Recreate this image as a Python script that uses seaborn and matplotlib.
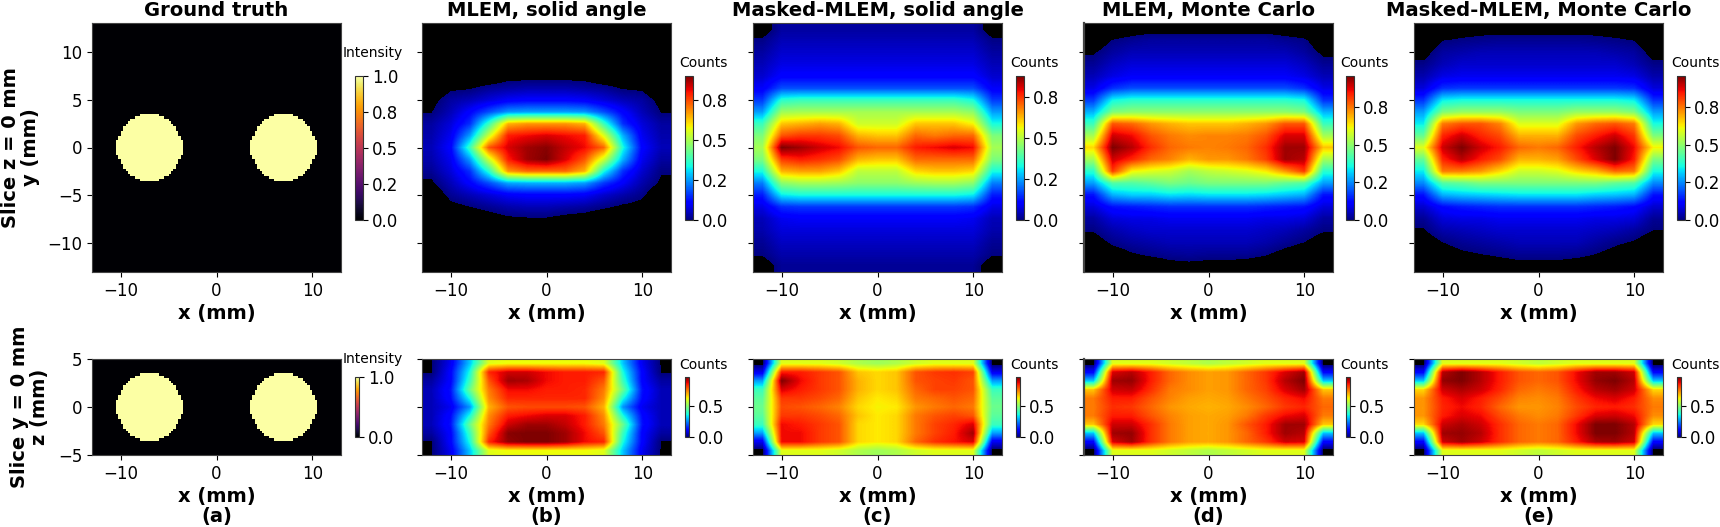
import numpy as np
import matplotlib
matplotlib.use("Agg")
import matplotlib.pyplot as plt
from matplotlib.cm import ScalarMappable
from matplotlib.colors import Normalize
import seaborn as sns

W, H = 1720, 527
titles = ["Ground truth", "MLEM, solid angle", "Masked-MLEM, solid angle", "MLEM, Monte Carlo", "Masked-MLEM, Monte Carlo"]
letters = ["(a)", "(b)", "(c)", "(d)", "(e)"]

# half widths (0.25 mm cells) of the source discs, row by row from the centre
disc_half_widths = [14, 14, 14, 13, 13, 12, 12, 11, 11, 10, 9, 8, 6, 4]
disc_centres_mm = [-7, 7]

# Relative activity by column, x = -12 ... 12 mm; rows run from y = +12.4 to -12.4 mm.
# Negative entries are the empty (black) region outside the reconstructed volume.
xy_b = [
 [-.1,-.1,-.1,-.1,-.1,-.06,-.02,-.002,.03,.04,.05,.04,.02,-.01,-.05,-.1,-.1,-.1,-.1,-.1,-.1],
 [-.1,-.1,-.1,-.1,-.05,-.01,.03,.05,.08,.1,.12,.1,.08,.05,.02,-.02,-.06,-.1,-.1,-.1,-.1],
 [-.1,-.1,-.1,-.1,-.05,-.005,.05,.12,.17,.28,.42,.28,.17,.12,.05,.0,-.05,-.1,-.1,-.1,-.1],
 [-.1,-.1,-.1,-.1,-.05,.02,.08,.2,.42,.6,.82,.6,.4,.2,.08,.02,-.03,-.1,-.1,-.1,-.1],
 [-.1,-.1,-.1,-.1,-.02,.03,.11,.27,.72,.88,.92,.88,.75,.29,.11,.04,-.01,-.1,-.1,-.1,-.1],
 [-.1,-.1,-.1,-.1,-.02,.04,.12,.28,.75,.9,.97,.97,.8,.3,.12,.05,-.005,-.1,-.1,-.1,-.1],
 [-.1,-.1,-.1,-.1,-.02,.04,.12,.28,.75,.92,.99,1,.8,.3,.12,.05,-.005,-.1,-.1,-.1,-.1],
 [-.1,-.1,-.1,-.1,-.02,.04,.12,.28,.75,.9,.94,.92,.8,.3,.12,.04,-.02,-.1,-.1,-.1,-.1],
 [-.1,-.1,-.1,-.1,-.02,.03,.11,.27,.72,.88,.9,.82,.72,.28,.11,.03,-.03,-.1,-.1,-.1,-.1],
 [-.1,-.1,-.1,-.1,-.05,.02,.08,.2,.42,.62,.8,.6,.38,.18,.07,.01,-.05,-.1,-.1,-.1,-.1],
 [-.1,-.1,-.1,-.1,-.05,-.005,.05,.12,.17,.3,.38,.3,.17,.11,.04,-.01,-.06,-.1,-.1,-.1,-.1],
 [-.1,-.1,-.1,-.1,-.05,-.01,.03,.05,.08,.1,.12,.1,.07,.04,.01,-.02,-.06,-.1,-.1,-.1,-.1],
 [-.1,-.1,-.1,-.1,-.1,-.06,-.02,-.002,.03,.04,.05,.03,.005,-.01,-.05,-.1,-.1,-.1,-.1,-.1,-.1],
]
xy_c = [
 [-.03,.01,.03,.05,.07,.11,.18,.28,.42,.5,.55,.5,.38,.25,.15,.09,.05,.04,.02,.005,-.03],
 [.03,.05,.07,.09,.12,.2,.4,.54,.7,.82,1,.85,.72,.52,.36,.17,.1,.08,.06,.04,.02],
 [.03,.05,.07,.09,.12,.2,.42,.55,.72,.85,.97,.88,.74,.55,.38,.18,.11,.08,.06,.04,.02],
 [.03,.05,.07,.09,.12,.2,.42,.55,.74,.85,.93,.86,.74,.55,.38,.18,.11,.08,.06,.04,.02],
 [.03,.05,.07,.09,.12,.2,.42,.55,.72,.83,.9,.83,.7,.54,.38,.18,.11,.08,.06,.04,.02],
 [.03,.05,.07,.09,.12,.2,.42,.55,.6,.72,.82,.72,.58,.52,.38,.18,.11,.08,.06,.04,.02],
 [.03,.05,.07,.09,.12,.2,.42,.55,.6,.7,.8,.7,.58,.52,.38,.18,.11,.08,.06,.04,.02],
 [.03,.05,.07,.09,.12,.2,.42,.55,.6,.7,.8,.7,.58,.52,.38,.18,.11,.08,.06,.04,.02],
 [.03,.05,.07,.09,.12,.2,.42,.55,.7,.8,.88,.8,.68,.54,.38,.18,.11,.08,.06,.04,.02],
 [.03,.05,.07,.09,.12,.2,.42,.55,.7,.78,.9,.8,.7,.55,.38,.18,.11,.08,.06,.04,.02],
 [.03,.05,.07,.09,.12,.2,.42,.55,.7,.8,.92,.8,.7,.55,.38,.18,.11,.08,.06,.04,.02],
 [.03,.05,.07,.09,.12,.2,.38,.52,.65,.8,.9,.8,.68,.52,.36,.17,.1,.08,.06,.04,.02],
 [-.03,.01,.03,.05,.07,.11,.18,.28,.38,.5,.55,.5,.38,.25,.15,.09,.05,.04,.02,.005,-.03],
]
xy_d = [
 [-.05,-.04,-.005,.02,.05,.09,.18,.3,.42,.55,.68,.55,.4,.28,.14,.08,.03,.005,-.03,-.05,-.05],
 [-.05,.005,.03,.06,.09,.17,.37,.5,.82,.93,1,.93,.85,.45,.3,.14,.08,.04,.01,-.03,-.05],
 [-.03,.02,.05,.08,.11,.2,.4,.52,.8,.9,.95,.87,.65,.45,.33,.15,.09,.06,.03,-.005,-.05],
 [-.02,.03,.05,.08,.11,.2,.4,.52,.75,.82,.86,.8,.62,.47,.33,.16,.09,.07,.04,.01,-.04],
 [-.02,.03,.05,.08,.11,.2,.4,.52,.72,.78,.8,.77,.6,.5,.35,.17,.1,.07,.05,.02,-.02],
 [-.02,.03,.05,.08,.11,.2,.4,.52,.7,.76,.78,.72,.55,.48,.34,.17,.1,.07,.05,.025,-.015],
 [-.02,.03,.05,.08,.11,.2,.4,.52,.7,.77,.77,.75,.58,.5,.35,.17,.1,.07,.05,.02,-.02],
 [-.02,.03,.05,.08,.11,.2,.4,.52,.7,.77,.78,.75,.6,.5,.35,.17,.1,.07,.05,.02,-.02],
 [-.02,.03,.05,.08,.11,.2,.4,.52,.72,.78,.8,.78,.62,.5,.35,.17,.1,.07,.05,.02,-.03],
 [-.02,.03,.05,.08,.11,.2,.4,.52,.75,.82,.86,.84,.66,.5,.34,.16,.09,.06,.04,.005,-.04],
 [-.03,.02,.05,.08,.11,.2,.4,.52,.82,.92,.97,.97,.75,.47,.32,.15,.09,.05,.02,-.02,-.05],
 [-.04,.01,.03,.06,.09,.17,.38,.5,.82,.92,.97,.95,.85,.45,.3,.14,.08,.03,.0,-.04,-.05],
 [-.05,-.04,-.01,.02,.05,.09,.17,.3,.42,.55,.7,.55,.4,.28,.14,.08,.03,.005,-.03,-.05,-.05],
]
xy_e = [
 [-.05,-.05,-.02,.01,.04,.08,.17,.28,.36,.47,.62,.47,.36,.26,.14,.07,.02,-.005,-.04,-.05,-.05],
 [-.05,.0,.03,.05,.09,.17,.36,.5,.78,.87,.93,.87,.78,.45,.3,.13,.08,.04,.0,-.03,-.05],
 [-.03,.01,.04,.07,.1,.18,.38,.53,.82,.93,1,.95,.78,.47,.32,.15,.09,.05,.02,-.01,-.05],
 [-.02,.015,.05,.07,.1,.18,.38,.53,.82,.87,.93,.88,.75,.5,.33,.16,.09,.06,.03,.0,-.04],
 [-.02,.02,.05,.07,.1,.18,.38,.53,.77,.83,.88,.83,.68,.5,.34,.17,.1,.07,.04,.01,-.03],
 [-.02,.02,.05,.07,.1,.18,.38,.5,.62,.72,.8,.72,.6,.5,.35,.17,.1,.07,.05,.02,-.02],
 [-.02,.02,.05,.07,.1,.18,.38,.5,.62,.72,.78,.72,.6,.5,.35,.17,.1,.07,.05,.02,-.02],
 [-.02,.02,.05,.07,.1,.18,.38,.5,.62,.72,.8,.74,.62,.5,.35,.17,.1,.07,.05,.02,-.02],
 [-.02,.02,.05,.07,.1,.18,.38,.53,.75,.83,.88,.83,.68,.5,.35,.17,.1,.07,.05,.015,-.03],
 [-.02,.015,.05,.07,.1,.18,.38,.53,.8,.88,.95,.92,.72,.5,.33,.16,.09,.06,.03,.0,-.04],
 [-.03,.01,.04,.07,.1,.18,.38,.53,.82,.93,1,1,.8,.47,.32,.15,.09,.05,.01,-.02,-.05],
 [-.04,.0,.03,.05,.09,.17,.36,.5,.78,.85,.9,.88,.78,.45,.3,.13,.08,.03,-.005,-.04,-.05],
 [-.05,-.05,-.02,.01,.04,.08,.17,.28,.38,.5,.65,.5,.38,.26,.14,.07,.02,.0,-.04,-.05,-.05],
]

# Same convention for the y = 0 slice; rows run from z = +4.55 to -4.55 mm.
xz_b = [
 [-.005,-.003,.03,.05,.05,.05,.05,.05,.03,-.003,-.005],
 [.1,.12,.12,.14,.13,.1,.13,.14,.12,.12,.1],
 [.32,.38,.42,.48,.38,.27,.38,.48,.42,.38,.32],
 [.62,.87,.82,.78,.76,.72,.76,.78,.82,.87,.62],
 [.64,.93,.97,.9,.87,.82,.88,.93,.99,.98,.64],
 [.64,.93,.96,.9,.87,.83,.9,.97,1,1,.64],
 [.64,.9,.9,.88,.87,.83,.92,.97,1,1,.64],
 [.64,.88,.88,.88,.87,.83,.92,.94,.97,.97,.64],
 [.64,.88,.88,.87,.87,.82,.88,.88,.9,.9,.64],
 [.62,.87,.82,.78,.76,.72,.76,.78,.82,.87,.62],
 [.32,.38,.42,.48,.38,.27,.38,.48,.42,.38,.32],
 [.1,.12,.12,.14,.13,.1,.13,.14,.12,.12,.1],
 [-.005,-.003,.03,.05,.05,.05,.05,.05,.03,-.003,-.005],
]
xz_c = [
 [-.02,.1,.28,.42,.46,.48,.46,.42,.28,.1,-.02],
 [.62,.88,1,.92,.85,.83,.85,.9,.9,.9,.62],
 [.62,.88,.9,.88,.85,.82,.85,.88,.9,.9,.62],
 [.62,.85,.85,.85,.83,.8,.83,.85,.85,.85,.62],
 [.6,.82,.82,.82,.8,.77,.8,.82,.82,.82,.6],
 [.56,.7,.72,.72,.7,.68,.7,.68,.68,.68,.56],
 [.54,.68,.68,.68,.66,.65,.66,.66,.66,.66,.54],
 [.56,.7,.7,.7,.68,.66,.68,.68,.68,.68,.56],
 [.6,.82,.82,.8,.78,.75,.78,.78,.78,.8,.6],
 [.62,.85,.84,.84,.8,.78,.82,.84,.84,.86,.62],
 [.62,.86,.85,.84,.82,.8,.84,.87,.88,.89,.62],
 [.62,.84,.82,.82,.8,.78,.82,.92,.97,.92,.62],
 [-.02,.1,.28,.42,.46,.48,.46,.42,.28,.1,-.02],
]
xz_d = [
 [-.02,.12,.32,.7,.78,.78,.78,.7,.32,.12,-.02],
 [.62,.92,.97,.93,.88,.86,.88,.93,.97,.92,.62],
 [.62,.95,.98,.94,.88,.85,.88,.93,.98,.97,.62],
 [.62,.88,.88,.86,.82,.8,.82,.86,.86,.86,.62],
 [.6,.8,.8,.78,.77,.75,.77,.78,.78,.78,.6],
 [.58,.76,.76,.76,.74,.73,.74,.74,.74,.74,.58],
 [.56,.74,.74,.74,.73,.72,.73,.73,.73,.73,.56],
 [.58,.75,.75,.75,.74,.73,.74,.75,.75,.75,.58],
 [.6,.8,.8,.8,.78,.76,.78,.82,.8,.8,.6],
 [.62,.85,.85,.84,.82,.8,.85,.88,.88,.85,.62],
 [.62,.92,.95,.92,.87,.85,.9,.97,.97,.93,.62],
 [.62,.97,1,.97,.9,.87,.92,.97,.95,.92,.62],
 [-.02,.12,.32,.7,.78,.8,.78,.7,.32,.12,-.02],
]
xz_e = [
 [-.02,.12,.32,.68,.75,.75,.75,.68,.32,.12,-.02],
 [.62,.95,.98,.93,.88,.87,.88,.93,.97,.93,.62],
 [.62,1,1,.96,.92,.9,.92,.96,.98,.97,.62],
 [.62,.95,.95,.93,.88,.87,.9,.93,.95,.93,.62],
 [.62,.88,.88,.87,.83,.8,.83,.86,.86,.86,.62],
 [.6,.82,.82,.8,.77,.75,.78,.8,.8,.8,.6],
 [.58,.8,.8,.78,.76,.75,.76,.78,.78,.78,.58],
 [.6,.82,.82,.8,.78,.77,.78,.8,.8,.8,.6],
 [.62,.9,.9,.88,.85,.83,.85,.9,.9,.88,.62],
 [.62,.97,.98,.95,.9,.87,.92,1,1,.96,.62],
 [.62,.97,1,.97,.92,.88,.93,1,1,.97,.62],
 [.62,.93,.95,.93,.88,.86,.9,.95,.95,.93,.62],
 [-.02,.12,.32,.68,.76,.78,.76,.68,.32,.12,-.02],
]
peaks_xy = [0.90, 0.875, 0.955, 0.955]
peaks_xz = [0.98, 0.98, 0.98, 0.98]

# ------------------------------------------------------------------ style
sns.set_theme(style="ticks")
plt.rcParams.update({
    "font.family": "DejaVu Sans", "axes.linewidth": 0.8, "axes.edgecolor": "#444444",
    "xtick.labelsize": 12, "ytick.labelsize": 12, "xtick.major.size": 3.5, "ytick.major.size": 3.5,
    "xtick.major.width": 0.8, "ytick.major.width": 0.8, "xtick.color": "black", "ytick.color": "black",
    "text.color": "black", "axes.labelcolor": "black",
})
TITLE_FS = 14.1
LABEL_FS = 14.0
CBAR_FS = 10.0

fig = plt.figure(figsize=(W / 100, H / 100), dpi=100, facecolor="white")

def box(x0, y0, x1, y1):
    return [x0 / W, 1 - y1 / H, (x1 - x0) / W, (y1 - y0) / H]

col_x0 = [92, 422, 753, 1084, 1414]
AX_W = 249
row_y = [(23, 272), (359, 455)]
cb_x0 = [355, 685, 1016, 1346, 1677]

def disc_matrix(n_rows):
    mat = np.zeros((n_rows, 104))
    c = n_rows // 2
    for k, w in enumerate(disc_half_widths):
        for mm in disc_centres_mm:
            cx = int((mm + 13) * 4)
            mat[c + k, cx - w:cx + w] = 1
            mat[c - 1 - k, cx - w:cx + w] = 1
    return mat

jet = matplotlib.colormaps["jet"].copy()
jet.set_under("black")
inferno = matplotlib.colormaps["inferno"]

def finish_axes(ax, yticks, col, row):
    ax.set_xticks([-10, 0, 10])
    ax.set_xticklabels(["\u221210", "0", "10"])
    ax.set_yticks(yticks)
    if col == 0:
        ax.set_yticklabels([str(t).replace("-", "\u2212") for t in yticks])
    else:
        ax.set_yticklabels([])
    lab = "x (mm)" if row == 0 else "x (mm)\n" + letters[col]
    ax.set_xlabel(lab, fontsize=LABEL_FS, fontweight="bold", labelpad=3, linespacing=1.1)
    for s in ax.spines.values():
        s.set_visible(True)
    if col == 3:
        ax.spines["left"].set_linewidth(1.6)

def add_cbar(col, row, cmap, vmax, ticks, label):
    if row == 0:
        y0, y1, w = 76, 220, 8
        ly = 53 if col == 0 else 63
    else:
        y0, y1, w = 377, 437, 4
        ly = 359 if col == 0 else 365
    cax = fig.add_axes(box(cb_x0[col], y0, cb_x0[col] + w, y1))
    sm = ScalarMappable(norm=Normalize(0, vmax), cmap=cmap)
    cb = fig.colorbar(sm, cax=cax, ticks=ticks, format="%.1f")
    cb.outline.set_linewidth(0.8)
    cb.outline.set_edgecolor("#333333")
    cax.tick_params(labelsize=12, length=3.5, width=0.8, pad=3)
    fig.text((cb_x0[col] + 18) / W, 1 - ly / H, label, fontsize=CBAR_FS, ha="center", va="center")

panels = [[None, xy_b, xy_c, xy_d, xy_e], [None, xz_b, xz_c, xz_d, xz_e]]
for row, (y0, y1) in enumerate(row_y):
    half_h = 13 if row == 0 else 5
    yticks = [-10, -5, 0, 5, 10] if row == 0 else [-5, 0, 5]
    for col in range(5):
        ax = fig.add_axes(box(col_x0[col], y0, col_x0[col] + AX_W, y1))
        if col == 0:
            mat = disc_matrix(104 if row == 0 else 40)
            sns.heatmap(mat, ax=ax, cmap=inferno, vmin=0, vmax=1, cbar=False, xticklabels=False, yticklabels=False)
            # re-express the cell grid in millimetres
            mesh = ax.collections[0]
            mesh.set_transform(matplotlib.transforms.Affine2D().scale(0.25, -0.25).translate(-13, half_h) + ax.transData)
            ax.set_xlim(-13, 13)
            ax.set_ylim(-half_h, half_h)
            ax.set_aspect("auto")
            add_cbar(col, row, inferno, 1.0, [0, .25, .5, .75, 1.0] if row == 0 else [0, 1.0], "Intensity")
        else:
            peak = (peaks_xy if row == 0 else peaks_xz)[col - 1]
            grid = np.array(panels[row][col]).T * peak
            ax.imshow(grid, cmap=jet, vmin=0, vmax=peak, interpolation="bilinear", interpolation_stage="data",
                      extent=(-13, 13, -half_h, half_h), origin="upper", aspect="auto")
            add_cbar(col, row, "jet", peak, [0, .25, .5, .75] if row == 0 else [0, .5], "Counts")
        finish_axes(ax, yticks, col, row)
        if row == 0:
            ax.set_title(titles[col], fontsize=TITLE_FS, fontweight="bold", pad=5)
        if col == 0:
            name = "Slice z = 0 mm\ny (mm)" if row == 0 else "Slice y = 0 mm\nz (mm)"
            ax.set_ylabel(name, fontsize=LABEL_FS, fontweight="bold", linespacing=1.05)
            ax.yaxis.set_label_coords(((40 if row == 0 else 49) - 92) / AX_W, 0.5)

fig.savefig("out.png", dpi=100, facecolor="white")
